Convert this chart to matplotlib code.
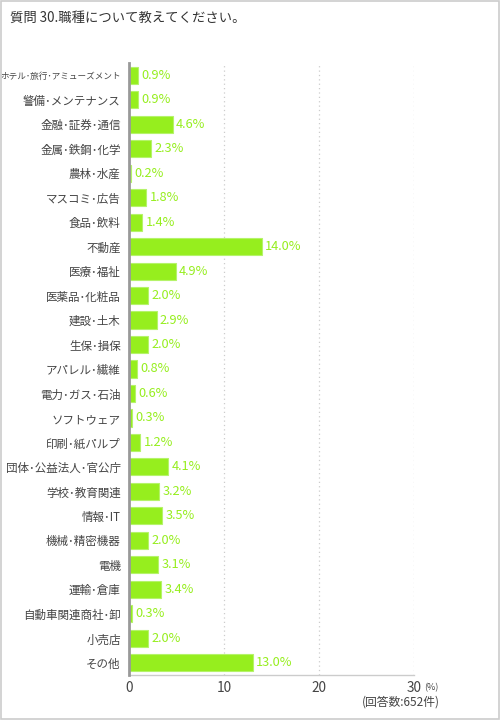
import matplotlib.pyplot as plt
from matplotlib.patches import Rectangle
import numpy as np

plt.rcParams['font.family'] = ['Noto Sans CJK JP', 'DejaVu Sans']

BAR_COLOR = '#96ee1e'
BAR_EDGE = '#b5f36a'
TEXT_COLOR = '#444444'
GRID_COLOR = '#cccccc'

categories = [
    'ホテル･旅行･アミューズメント', '警備･メンテナンス', '金融･証券･通信',
    '金属･鉄鋼･化学', '農林･水産', 'マスコミ･広告', '食品･飲料', '不動産',
    '医療･福祉', '医薬品･化粧品', '建設･土木', '生保･損保', 'アパレル･繊維',
    '電力･ガス･石油', 'ソフトウェア', '印刷･紙パルプ', '団体･公益法人･官公庁',
    '学校･教育関連', '情報･IT', '機械･精密機器', '電機', '運輸･倉庫',
    '自動車関連商社･卸', '小売店', 'その他',
]
values = [0.9, 0.9, 4.6, 2.3, 0.2, 1.8, 1.4, 14.0, 4.9, 2.0, 2.9, 2.0, 0.8,
          0.6, 0.3, 1.2, 4.1, 3.2, 3.5, 2.0, 3.1, 3.4, 0.3, 2.0, 13.0]
x_ticks = [0, 10, 20, 30]

fig = plt.figure(figsize=(5, 7.2), dpi=100, facecolor='white')
ax = fig.add_axes([0.258, 0.0625, 0.57, 0.85])

y_pos = np.arange(len(categories))
bars = ax.barh(y_pos, values, height=0.7, color=BAR_COLOR, edgecolor=BAR_EDGE,
               linewidth=0.8, zorder=3)

for bar in bars:
    w = bar.get_width()
    ax.text(w + 0.35, bar.get_y() + bar.get_height() / 2, f"{w:.1f}%",
            va='center', ha='left', color=BAR_COLOR, fontsize=9.2, zorder=4)

ax.set_xlim(0, 30)
ax.set_ylim(len(categories) - 0.5, -0.5)

for t in x_ticks[1:]:
    ax.axvline(t, color=GRID_COLOR, linestyle=(0, (1, 2.5)), linewidth=0.9, zorder=1)

ax.set_xticks(x_ticks)
ax.set_xticklabels([str(t) for t in x_ticks], fontsize=9.8, color=TEXT_COLOR)
ax.set_yticks(y_pos)
ax.set_yticklabels(categories, fontsize=8.3, color=TEXT_COLOR)
ax.tick_params(length=0, pad=4)
ax.tick_params(axis='y', pad=6)
# long first label is drawn narrower in the original
ax.yaxis.get_major_ticks()[0].label1.set_fontsize(6.2)

for s in ['top', 'right']:
    ax.spines[s].set_visible(False)
ax.spines['left'].set_color('#999999')
ax.spines['left'].set_linewidth(2)
ax.spines['left'].set_zorder(5)
ax.spines['bottom'].set_color(GRID_COLOR)
ax.spines['bottom'].set_linewidth(1)

fig.text(0.02, 0.975, '質問 30.職種について教えてください。', fontsize=9.6,
         color='#333333', va='center', ha='left')
fig.text(0.848, 0.045, '(%)', fontsize=6.5, color=TEXT_COLOR, va='center', ha='left')
fig.text(0.88, 0.025, '(回答数:652件)', fontsize=8.5, color=TEXT_COLOR,
         va='center', ha='right')

fig.patches.append(Rectangle((0.001, 0.001), 0.997, 0.997, transform=fig.transFigure,
                             fill=False, edgecolor='#cccccc', linewidth=1.2))

fig.savefig('out.png', dpi=100, facecolor='white')
